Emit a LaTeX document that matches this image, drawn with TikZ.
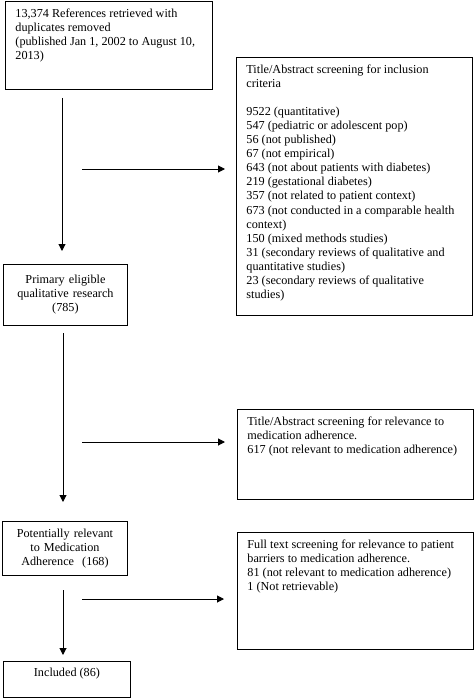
\documentclass[tikz,border=0pt]{standalone}
\usepackage{fontspec}
\setmainfont{Liberation Serif}
\usetikzlibrary{arrows.meta}
\newcommand{\topbox}[3]{\parbox[t][#2][t]{#1}{\raggedright #3}}
\newcommand{\topboxc}[3]{\parbox[t][#2][t]{#1}{\centering #3}}
\begin{document}
\begin{tikzpicture}[x=1pt,y=-1pt,
  txt/.style={font=\fontsize{12.2}{14.1}\selectfont},
  topframe/.style={txt, draw, line width=0.9pt, anchor=north west, inner xsep=10pt, inner ysep=7pt},
  midframe/.style={txt, draw, line width=0.9pt, anchor=north west, inner sep=2pt, align=center},
  arr/.style={line width=1pt, -{Triangle[length=7pt,width=7pt]}}]
\useasboundingbox (0,0) rectangle (474,698);

\node[topframe] (b1) at (5,1) {\topbox{187pt}{74pt}{13,374 References retrieved with\\duplicates removed\\(published Jan 1, 2002 to August 10,\\2013)}};

\node[topframe] (b2) at (236,57) {\topbox{216pt}{244pt}{Title/Abstract screening for inclusion\\criteria\\[14.1pt]
9522 (quantitative)\\
547 (pediatric or adolescent pop)\\
56 (not published)\\
67 (not empirical)\\
643 (not about patients with diabetes)\\
219 (gestational diabetes)\\
357 (not related to patient context)\\
673 (not conducted in a comparable health\\
context)\\
150 (mixed methods studies)\\
31 (secondary reviews of qualitative and\\
quantitative studies)\\
23 (secondary reviews of qualitative\\
studies)}};

\node[midframe, minimum width=124pt, minimum height=61pt, text width=118pt] (b3) at (3,264) {Primary eligible\\qualitative research\\(785)};

\node[topframe] (b4) at (237,409) {\topbox{216pt}{76pt}{Title/Abstract screening for relevance to\\medication adherence.\\617 (not relevant to medication adherence)}};

\node[midframe, minimum width=125pt, minimum height=54pt, text width=119pt] (b5) at (2,521) {Potentially relevant\\to Medication\\Adherence\ \ (168)};

\node[topframe] (b7) at (237,532) {\topbox{216pt}{103pt}{Full text screening for relevance to patient\\barriers to medication adherence.\\81 (not relevant to medication adherence)\\1 (Not retrievable)}};

\node[topframe] (b6) at (3,661) {\topboxc{107pt}{22pt}{Included (86)}};

\coordinate (v1s) at (62,98);
\coordinate (v2s) at (63,333);
\coordinate (v3s) at (63,590);
\coordinate (h1s) at (82,169);
\coordinate (h2s) at (82,442);
\coordinate (h3s) at (82,599);

\draw[arr] (v1s) -- ([yshift=13pt]v1s |- b3.north);
\draw[arr] (v2s) -- ([yshift=19pt]v2s |- b5.north);
\draw[arr] (v3s) -- ([yshift=6pt]v3s |- b6.north);
\draw[arr] (h1s) -- ([xshift=-11pt]h1s -| b2.west);
\draw[arr] (h2s) -- ([xshift=-12pt]h2s -| b4.west);
\draw[arr] (h3s) -- ([xshift=-13pt]h3s -| b7.west);
\end{tikzpicture}
\end{document}
